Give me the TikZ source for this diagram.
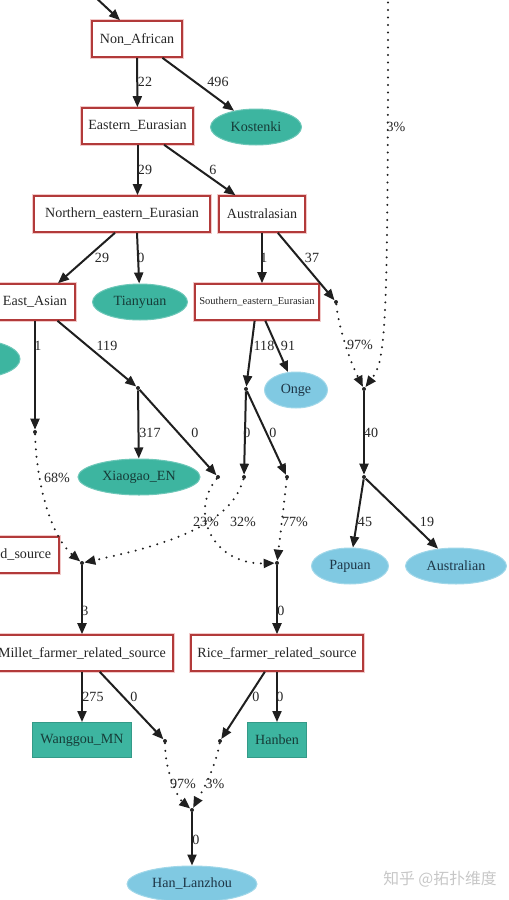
\documentclass[tikz,border=0pt]{standalone}
\usepackage{fontspec}
\setmainfont{Liberation Serif}
\newfontfamily\cjkfont{Noto Sans CJK SC}
\usetikzlibrary{shapes.geometric,arrows.meta}
\definecolor{boxred}{HTML}{B23A3A}
\definecolor{boxhalo}{HTML}{F2CACA}
\definecolor{tealc}{HTML}{3DB5A0}
\definecolor{bluec}{HTML}{80C9E2}
\definecolor{txt}{HTML}{262626}
\definecolor{tealtxt}{HTML}{163C38}
\definecolor{bluetxt}{HTML}{1D3546}
\begin{document}
\begin{tikzpicture}[x=0.02cm,y=-0.02cm,
  f8/.style={font=\fontsize{8}{9.6}\selectfont},
  box/.style={rectangle, draw=boxred, line width=0.032cm, preaction={draw=boxhalo, line width=0.08cm}, fill=white, minimum height=0.72cm, inner sep=0pt, f8, text=txt},
  tealell/.style={ellipse, fill=tealc, draw=tealc!75!white, line width=0.02cm, minimum height=0.72cm, inner sep=0pt, f8, text=tealtxt},
  blueell/.style={ellipse, fill=bluec, draw=bluec!75!white, line width=0.02cm, minimum height=0.72cm, inner sep=0pt, f8, text=bluetxt},
  tealrect/.style={rectangle, fill=tealc, draw=tealc!85!black, line width=0.02cm, minimum height=0.7cm, inner sep=0pt, f8, text=tealtxt},
  pt/.style={circle, fill=black!85, inner sep=0pt, minimum size=0.08cm},
  arr/.style={draw=black!88, line width=0.04cm, -{Triangle[length=0.22cm,width=0.18cm]}},
  dotarr/.style={draw=black!88, line width=0.045cm, line cap=round, dash pattern=on 0pt off 0.15cm, -{Triangle[length=0.22cm,width=0.18cm]}},
  lbl/.style={f8, text=txt, inner sep=0pt}]
\useasboundingbox (0,0) rectangle (508,900);
\clip (0,0) rectangle (508,900);

% nodes
\node[box, minimum width=1.8cm] (na) at (137,39) {Non\_African};
\node[box, minimum width=2.22cm] (ee) at (137.5,126) {Eastern\_Eurasian};
\node[tealell, minimum width=1.82cm] (ko) at (256,127) {Kostenki};
\node[box, minimum width=3.52cm] (nee) at (122,214) {Northern\_eastern\_Eurasian};
\node[box, minimum width=1.72cm] (au) at (262,214) {Australasian};
\node[box, minimum width=1.6cm] (ea) at (35,302) {East\_Asian};
\node[tealell, minimum width=1.9cm] (ty) at (140,302) {Tianyuan};
\node[box, minimum width=2.48cm, font=\fontsize{6}{7}\selectfont] (se) at (257,302) {Southern\_eastern\_Eurasian};
\node[tealell, minimum width=1.8cm, minimum height=0.76cm] (lt) at (-25,359) {};
\node[blueell, minimum width=1.26cm] (on) at (296,390) {Onge};
\node[tealell, minimum width=2.44cm] (xg) at (139,477) {Xiaogao\_EN};
\node[blueell, minimum width=1.54cm] (pp) at (350,566) {Papuan};
\node[blueell, minimum width=2.02cm] (aus) at (456,566) {Australian};
\node[box, anchor=east, text width=2cm, align=right, inner xsep=0.16cm] (ds) at (60,555) {d\_source};
\node[box, minimum width=3.64cm] (mi) at (82,653) {Millet\_farmer\_related\_source};
\node[box, minimum width=3.44cm] (ri) at (277,653) {Rice\_farmer\_related\_source};
\node[tealrect, minimum width=1.98cm] (wg) at (82,740) {Wanggou\_MN};
\node[tealrect, minimum width=1.2cm] (hb) at (277,740) {Hanben};
\node[blueell, minimum width=2.6cm] (hl) at (192,884) {Han\_Lanzhou};

% points
\node[pt] (p1) at (336,302) {};
\node[pt] (pea1) at (35,432) {};
\node[pt] (pea2) at (138,388) {};
\node[pt] (pse) at (246,389) {};
\node[pt] (p3) at (218,477) {};
\node[pt] (p4) at (244,477) {};
\node[pt] (p5) at (287,477) {};
\node[pt] (pa) at (364,389) {};
\node[pt] (pa2) at (364,477) {};
\node[pt] (mm) at (82,563) {};
\node[pt] (rm) at (277,563) {};
\node[pt] (pm0) at (165,741) {};
\node[pt] (pr0) at (220,741) {};
\node[pt] (hm) at (192,810) {};
\coordinate (topin) at (93,-5);
\coordinate (topr) at (388,-5);

% solid edges
\draw[arr] (topin) -- ([xshift=-0.34cm]na.north);
\draw[arr] (na) -- (ee);
\draw[arr] (na) -- (ko);
\draw[arr] (ee.south) -- (ee.south |- nee.north);
\draw[arr] (ee) -- (au);
\draw[arr] ([xshift=-0.14cm]nee.south) -- ([xshift=0.46cm]ea.north);
\draw[arr] ([xshift=0.3cm]nee.south) -- (ty);
\draw[arr] (au.south) -- (au.south |- se.north);
\draw[arr] (au) -- (p1);
\draw[arr] (ea) -- (pea1);
\draw[arr] (ea) -- (pea2);
\draw[arr] (se) -- (pse);
\draw[arr] (se) -- (on);
\draw[arr] (pea2) -- (xg);
\draw[arr] (pea2) -- (p3);
\draw[arr] (pse) -- (p4);
\draw[arr] (pse) -- (p5);
\draw[arr] (pa) -- (pa2);
\draw[arr] (pa2) -- (pp);
\draw[arr] (pa2) -- (aus);
\draw[arr] (mm) -- (mi);
\draw[arr] (rm) -- (ri);
\draw[arr] (mi) -- (wg);
\draw[arr] (mi) -- (pm0);
\draw[arr] (ri) -- (pr0);
\draw[arr] (ri) -- (hb);
\draw[arr] (hm) -- (hl);

% dotted edges
\draw[dotarr] (topr) .. controls (388,330) and (386,360) .. (pa);
\draw[dotarr] (p1) .. controls (340,335) and (352,365) .. (pa);
\draw[dotarr] (pea1) .. controls (37,495) and (55,540) .. (mm);
\draw[dotarr] (p3) .. controls (188,515) and (215,565) .. (rm);
\draw[dotarr] (p4) .. controls (230,530) and (150,548) .. (mm);
\draw[dotarr] (p5) -- (rm);
\draw[dotarr] (pm0) .. controls (165,775) and (180,800) .. (hm);
\draw[dotarr] (pr0) .. controls (215,770) and (200,795) .. (hm);

% labels
\node[lbl] at (145,82) {22};
\node[lbl] at (218,82) {496};
\node[lbl] at (145,170) {29};
\node[lbl] at (213,170) {6};
\node[lbl] at (102,258) {29};
\node[lbl] at (141,258) {0};
\node[lbl] at (264,258) {1};
\node[lbl] at (312,258) {37};
\node[lbl] at (396,127) {3\%};
\node[lbl] at (360,345) {97\%};
\node[lbl] at (38,346) {1};
\node[lbl] at (107,346) {119};
\node[lbl] at (264,346) {118};
\node[lbl] at (288,346) {91};
\node[lbl] at (150,433) {317};
\node[lbl] at (195,433) {0};
\node[lbl] at (247,433) {0};
\node[lbl] at (273,433) {0};
\node[lbl] at (371,433) {40};
\node[lbl] at (57,478) {68\%};
\node[lbl] at (206,522) {23\%};
\node[lbl] at (243,522) {32\%};
\node[lbl] at (295,522) {77\%};
\node[lbl] at (365,522) {45};
\node[lbl] at (427,522) {19};
\node[lbl] at (85,611) {3};
\node[lbl] at (281,611) {0};
\node[lbl] at (93,697) {275};
\node[lbl] at (134,697) {0};
\node[lbl] at (256,697) {0};
\node[lbl] at (280,697) {0};
\node[lbl] at (183,784) {97\%};
\node[lbl] at (215,784) {3\%};
\node[lbl] at (196,840) {0};
\node[font=\cjkfont\fontsize{9}{10}\selectfont, text=black!22] (wm) at (440,879) {知乎 @拓扑维度};
\end{tikzpicture}
\end{document}
